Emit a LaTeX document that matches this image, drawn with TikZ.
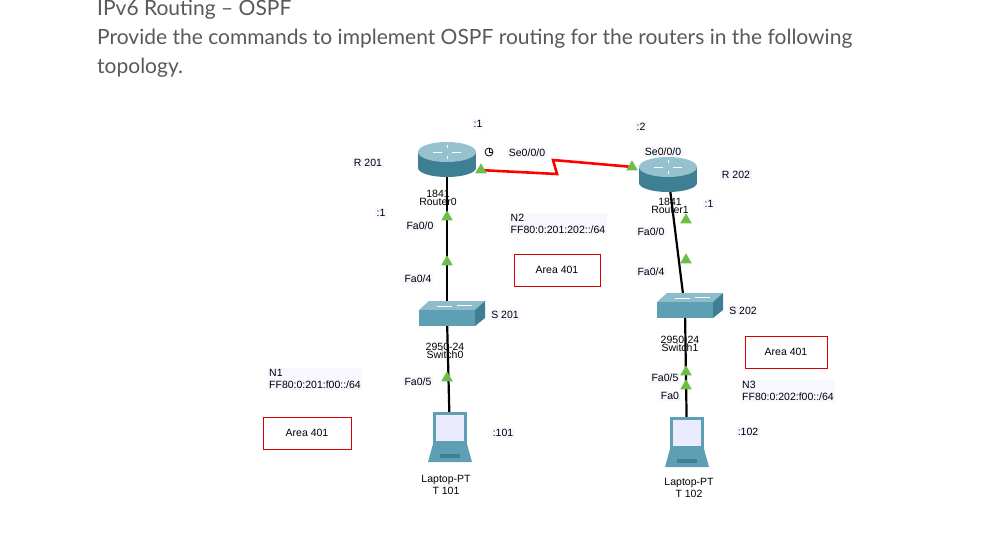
\documentclass[tikz,border=0pt]{standalone}
\usepackage{fontspec}
\setmainfont{Liberation Sans}
\newfontfamily\titlefont{Lato}
\usetikzlibrary{shapes.geometric}
\definecolor{dev}{HTML}{5E9FB3}
\definecolor{devd}{HTML}{3E7F93}
\definecolor{tri}{HTML}{6DBE45}
\begin{document}
\begin{tikzpicture}[x=1pt,y=-1pt,
 lbl/.style={font=\fontsize{10.5}{11.5}\selectfont,inner sep=1.5pt,fill=blue!3,align=center},
 area/.style={draw=red!85!black,font=\fontsize{10.5}{11.5}\selectfont,minimum width=#1,minimum height=32,line width=0.8pt},
 eth/.style={line width=2.2pt,black},
 tr/.style={fill=tri,isosceles triangle,isosceles triangle apex angle=60,shape border rotate=90,inner sep=0pt,minimum size=10pt}]
\useasboundingbox (0,0) rectangle (999,554);
\fill[white] (0,0) rectangle (999,554);
\node[anchor=north west,inner sep=0,text=black!65,font=\titlefont\fontsize{21}{29}\selectfont,align=left] (title) at (97,0)
 {IPv6 Routing – OSPF\\Provide the commands to implement OSPF routing for the routers in the following\\topology.};
% devices
\coordinate (r1) at (447,158); \coordinate (r2) at (668,173);
\coordinate (s1) at (447,318); \coordinate (s2) at (685,310);
\coordinate (l1) at (450,440); \coordinate (l2) at (687,445);
\draw[eth] (r1) -- (s1); \draw[eth] (s1) -- (l1);
\draw[eth] (r2) -- (s2); \draw[eth] (s2) -- (l2);
\coordinate (z1) at (557,174); \coordinate (z2) at (553,160);
\draw[red,line width=2.6pt] (479,170) -- (z1) -- (z2) -- (633,167);
% routers
\foreach \c/\n in {r1/ra,r2/rb}{
 \begin{scope}[shift={(\c)}]
 \fill[devd] (-29,-6) rectangle (29,10);
 \fill[devd] (0,10) ellipse (29 and 9);
 \fill[dev!65!white] (0,-6) ellipse (29 and 10);
 \draw[white,line width=0.8pt] (-14,-6)--(-5,-6) (5,-6)--(14,-6) (0,-13)--(0,-10) (0,-2)--(0,1);
 \node[inner sep=0] (\n) at (0,0) {};
 \end{scope}}
% switches
\foreach \c/\n in {s1/sa,s2/sb}{
 \begin{scope}[shift={(\c)}]
 \fill[dev!70!white] (-28,-8) -- (28,-8) -- (38,-17) -- (-18,-17) -- cycle;
 \fill[dev] (-28,-8) rectangle (28,8);
 \fill[devd] (28,-8) -- (38,-17) -- (38,0) -- (28,8) -- cycle;
 \draw[white,line width=0.6pt] (-10,-12)--(5,-12) (10,-13)--(25,-13);
 \node[inner sep=0] (\n) at (0,0) {};
 \end{scope}}
% laptops
\foreach \c/\n in {l1/la,l2/lb}{
 \begin{scope}[shift={(\c)}]
 \fill[dev] (-17,-28) rectangle (17,4);
 \fill[blue!8] (-14,-25) rectangle (14,1);
 \fill[dev] (-17,4) -- (17,4) -- (22,22) -- (-22,22) -- cycle;
 \fill[devd] (-10,14) rectangle (10,18);
 \node[inner sep=0] (\n) at (0,0) {};
 \end{scope}}
% triangles
\foreach \p in {(481,170),(632,167),(447,217),(447,262),(447,378),(686,220),(686,260),(686,372),(686,386)}
 \node[tr] at \p {};
% labels
\node[lbl] (a1) at (478,124) {:1};
\node[lbl] (se1) at (527,153) {Se0/0/0};
\node[draw,circle,inner sep=0,minimum size=8pt,thick] (clk) at (489,152) {};
\draw[thick] (clk.center) -- (clk.north) (clk.center) -- (clk.east);
\node[lbl] (a2) at (641,127) {:2};
\node[lbl] (se2) at (663,152) {Se0/0/0};
\node[lbl] (n201) at (368,163) {R 201};
\node[lbl] (n202) at (736,175) {R 202};
\node[lbl,fill=none] (m1) at (438,198) {1841\\[-3pt]Router0};
\node[lbl,fill=none] (m2) at (670,206) {1841\\[-3pt]Router1};
\node[lbl] (c1) at (381,213) {:1};
\node[lbl] (c2) at (709,204) {:1};
\node[lbl] (f1) at (420,226) {Fa0/0};
\node[lbl] (f2) at (651,232) {Fa0/0};
\node[lbl,align=left] (n2) at (558,224) {N2\\FF80:0:201:202::/64};
\node[area=86] (ar2) at (557,270) {Area 401};
\node[lbl] (f3) at (418,279) {Fa0/4};
\node[lbl] (f4) at (651,272) {Fa0/4};
\node[lbl] (sl1) at (505,315) {S 201};
\node[lbl] (sl2) at (743,311) {S 202};
\node[lbl,fill=none] (m3) at (445,351) {2950-24\\[-3pt]Switch0};
\node[lbl,fill=none] (m4) at (680,344) {2950-24\\[-3pt]Switch1};
\node[area=82] (ar3) at (786,352) {Area 401};
\node[lbl,align=left] (n1) at (315,379) {N1\\FF80:0:201:f00::/64};
\node[lbl] (f5) at (418,382) {Fa0/5};
\node[lbl] (f6) at (665,378) {Fa0/5};
\node[lbl] (f7) at (670,396) {Fa0};
\node[lbl,align=left] (n3) at (788,391) {N3\\FF80:0:202:f00::/64};
\node[area=88] (ar1) at (307,433) {Area 401};
\node[lbl] (h1) at (503,433) {:101};
\node[lbl] (h2) at (748,432) {:102};
\node[lbl,fill=none] (t1) at (446,485) {Laptop-PT\\T 101};
\node[lbl,fill=none] (t2) at (689,488) {Laptop-PT\\T 102};
\end{tikzpicture}
\end{document}
